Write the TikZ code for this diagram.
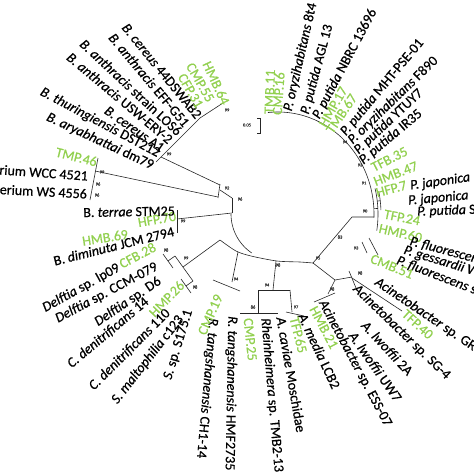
\documentclass[tikz,border=0pt]{standalone}
\usepackage{fontspec}
\setmainfont{Carlito}[FakeBold=0.6]
\definecolor{lg}{RGB}{146,208,80}
\begin{document}
\begin{tikzpicture}[x=1pt,y=-1pt,
  br/.style={line width=0.6pt, black!85},
  lab/.style={inner sep=0pt, font=\fontsize{14}{14}\selectfont},
  lr/.style={lab, anchor=west},
  ll/.style={lab, anchor=east},
  gr/.style={text=lg},
  bs/.style={inner sep=0pt, text=black!80, font=\fontsize{4.5}{4.5}\selectfont}]
\useasboundingbox (0,0) rectangle (474,474);
\clip (0,0) rectangle (474,474);

% ---------- tree branches ----------
% Bacillus / megaterium
\draw[br] (232,198) -- (220,190);
\draw[br] (220,184) -- (218,198);
\draw[br] (220,185) -- (161,157);
\draw[br] (156,162) -- (200,118) -- (223,103);
\draw[br] (218,197) -- (95,171);
\draw[br] (98,158) -- (90,200);
% root
\draw[br] (232,198) -- (232,213);
\draw[br] plot[domain=180:236,samples=30] ({278+47*cos(\x)},{214-47*sin(\x)});
\draw[br] (232,213) -- (177,219);
\draw[br] (177,210) -- (177,233);
\draw[br] plot[smooth] coordinates {(220,240) (236,251) (251,256) (277,261) (300,262) (313,263)};
% Delftia / Comamonas / Stenotrophomonas
\draw[br] (220,240) -- (183,267);
\draw[br] (175,256) -- (193,281);
\draw[br] (175,256) -- (168,261);
\draw[br] (163,254) -- (173,268);
\draw[br] (193,281) -- (186,286);
\draw[br] (181,279) -- (191,293);
% R. tangshanensis
\draw[br] (238,252) -- (232,282);
\draw[br] (213,280) -- (240,291);
% Rheinheimera / Aeromonas
\draw[br] (276,261) -- (273,290);
\draw[br] (258,290) -- (290,290);
\draw[br] (258,290) -- (258,313);
\draw[br] (290,290) -- (292,312);
\draw[br] (240,313) -- (278,313);
\draw[br] (286,312) -- (304,316);
% Acinetobacter
\draw[br] (313,263) -- (335,280);
\draw[br] (335,280) -- (352,277);
\draw[br] (349,271) -- (356,288);
\draw[br] (352,278) -- (402,311);
\draw[br] (335,280) -- (328,294);
\draw[br] (314,302) -- (335,293);
% Pseudomonas
\draw[br] (313,263) -- (352,217) -- (374,217);
\draw[br] plot[domain=-2:96,samples=60] ({278+96*cos(\x)},{214-102*sin(\x)});
\draw[br] ({278+96*cos(3)},{214-102*sin(3)}) -- ({278+100*cos(3)},{214-106*sin(3)});
\draw[br] plot[domain=-9:14,samples=20] ({278+100*cos(\x)},{214-106*sin(\x)});
\draw[br] ({278+100*cos(7)},{214-106*sin(7)}) -- ({278+103*cos(7)},{214-109*sin(7)});
\draw[br] plot[domain=2:12,samples=10] ({278+103*cos(\x)},{214-109*sin(\x)});
\draw[br] (362,242) -- (367,253);
\draw[br] (369,238) -- (378,255);
% scale bar
\draw[br] (257,118) -- (260,118) -- (260,133) -- (257,133);
\node[bs] (sc) at (247,125) {0.05};

% ---------- bootstrap values ----------
\node[bs] (v1) at (227,110) {99};
\node[bs] (v2) at (169,154) {99};
\node[bs] (v3) at (227,188) {92};
\node[bs] (v4) at (240,199) {96};
\node[bs] (v5) at (102,172) {99};
\node[bs] (v6) at (98,184) {96};
\node[bs] (v7) at (97,195) {96};
\node[bs] (v8) at (183,221) {99};
\node[bs] (v9) at (186,258) {99};
\node[bs] (v10) at (166,250) {98};
\node[bs] (v11) at (195,287) {98};
\node[bs] (v12) at (236,279) {94};
\node[bs] (v13) at (278,265) {98};
\node[bs] (v14) at (267,285) {94};
\node[bs] (v15) at (253,307) {86};
\node[bs] (v16) at (296,307) {97};
\node[bs] (v17) at (318,258) {95};
\node[bs] (v18) at (332,289) {98};
\node[bs] (v19) at (360,273) {98};
\node[bs] (v20) at (340,237) {83};
\node[bs] (v21) at (356,248) {93};
\node[bs] (v22) at (365,211) {90};
\node[bs] (v23) at (364,183) {91};
\node[bs] (v24) at (360,165) {93};
\node[bs] (v25) at (345,142) {94};

% ---------- labels, right side ----------
\node[lr,gr,rotate=88] (r1) at (269,114) {TMB.11};
\node[lr,gr,rotate=86] (r2) at (277,115) {CMP.16};
\node[lr,rotate=77] (r3) at (288,111) {\textit{P. oryzihabitans} 8t4};
\node[lr,rotate=75] (r4) at (305,114) {\textit{P. putida} AGL 13};
\node[lr,rotate=62] (r5) at (316,118) {\textit{P. putida} NBRC 13696};
\node[lr,gr,rotate=60] (r6) at (322,126) {HMP.17};
\node[lr,gr,rotate=56] (r7) at (329,132) {TMB.67};
\node[lr,rotate=50] (r8) at (343,134) {\textit{P. putida} MHT-PSE-01};
\node[lr,rotate=44] (r9) at (350,142) {\textit{P. oryzihabitans} F890};
\node[lr,rotate=43] (r10) at (356,152) {\textit{P. putida} YTUY7};
\node[lr,rotate=40] (r11) at (361,162) {\textit{P. putida} IR35};
\node[lr,gr,rotate=27] (r12) at (372,168) {TFB.35};
\node[lr,gr,rotate=21] (r13) at (374,182) {HMB.47};
\node[lr,gr,rotate=15] (r14) at (376,193) {HFP.7};
\node[lr,rotate=8] (r15) at (410,186) {\textit{P. japonica}};
\node[lr,rotate=5] (r16) at (408,201) {\textit{P. japonica}};
\node[lr,rotate=2] (r17) at (417,212) {\textit{P. putida} S};
\node[lr,gr,rotate=-11] (r18) at (384,214) {TFP.24};
\node[lr,gr,rotate=-13] (r19) at (379,228) {HMP.60};
\node[lr,rotate=-15] (r20) at (410,241) {\textit{P. fluorescens}};
\node[lr,rotate=-17] (r21) at (404,250) {\textit{P. gessardii} W};
\node[lr,rotate=-21] (r22) at (397,260) {\textit{P. fluorescens} s};
\node[lr,gr,rotate=-22] (r23) at (371,258) {CMB.51};
\node[lr,rotate=-34] (r24) at (376,281) {\textit{Acinetobacter} sp. GR};
\node[lr,gr,rotate=-42] (r25) at (404,312) {TFP.40};
\node[lr,rotate=-44] (r26) at (355,287) {\textit{Acinetobacter} sp. SG-4};
\node[lr,rotate=-47] (r27) at (364,323) {\textit{A. lwoffii} 2A};
\node[lr,rotate=-55] (r28) at (352,333) {\textit{A. lwoffii} UW7};
\node[lr,rotate=-62] (r29) at (322,301) {\textit{Acinetobacter} sp. ESS-07};
\node[lr,gr,rotate=-62] (r30) at (313,307) {HMB.21};
\node[lr,rotate=-65] (r31) at (302,314) {\textit{A. media} LCB2};
\node[lr,gr,rotate=-76] (r32) at (294,317) {TFP.65};
\node[lr,rotate=-80] (r33) at (281,317) {\textit{A. caviae} Moschidae};
\node[lr,rotate=-85] (r34) at (265,318) {\textit{Rheinheimera} sp. TMB2-13};
\node[lr,gr,rotate=-84] (r35) at (248,318) {CMP.25};
\node[lr,rotate=-91] (r36) at (232,316) {\textit{R. tangshanensis} HMF2735};
\node[lr,rotate=-95] (r37) at (213,318) {\textit{R. tangshanensis} CH1-14};

% ---------- labels, left side ----------
\node[ll,gr,rotate=66] (l1) at (219,295) {CMP.19};
\node[ll,rotate=73] (l2) at (189,310) {\textit{S.} sp. S175.1};
\node[ll,rotate=52] (l3) at (181,317) {\textit{S. maltophilia} c123};
\node[ll,rotate=45] (l4) at (168,311) {\textit{C. denitrificans} 110};
\node[ll,gr,rotate=46] (l5) at (182,283) {HMP.26};
\node[ll,rotate=40] (l6) at (147,300) {\textit{C. denitrificans} 14};
\node[ll,rotate=34] (l7) at (160,280) {\textit{Delftia} sp. D6};
\node[ll,rotate=28] (l8) at (157,266) {\textit{Delftia} sp. CCM-079};
\node[ll,rotate=29] (l9) at (119,267) {\textit{Delftia} sp. lp09};
\node[ll,gr,rotate=28] (l10) at (155,246) {CFB.28};
\node[ll,rotate=14] (l11) at (174,231) {B. \textit{diminuta} JCM 2794};
\node[ll,gr,rotate=9] (l12) at (128,234) {HMB.69};
\node[ll,gr,rotate=10] (l13) at (176,216) {HFP.70};
\node[ll,rotate=1] (l14) at (175,211) {B. \textit{terrae} STM25};
\node[ll,rotate=-3] (l15) at (87,195) {B. megaterium WS 4556};
\node[ll,rotate=-4] (l16) at (88,177) {B. megaterium WCC 4521};
\node[ll,gr,rotate=-14] (l17) at (97,162) {TMP.46};
\node[ll,rotate=-25] (l18) at (153,166) {\textit{B. aryabhattai} dm79};
\node[ll,rotate=-28] (l19) at (159,154) {\textit{B. thuringiensis} DST212};
\node[ll,rotate=-35] (l20) at (163,149) {\textit{B. cereus} A1};
\node[ll,rotate=-40] (l21) at (171,141) {\textit{B. anthracis} USW-ERY-2};
\node[ll,rotate=-43] (l22) at (180,133) {\textit{B. anthracis} strain LOS6};
\node[ll,rotate=-50] (l23) at (187,125) {\textit{B. anthracis} EFF-G51};
\node[ll,rotate=-51] (l24) at (199,117) {\textit{B. cereus} 44DSWAB2};
\node[ll,gr,rotate=-60] (l25) at (200,107) {CFP.31};
\node[ll,gr,rotate=-60] (l26) at (211,101) {CMP.55};
\node[ll,gr,rotate=-65] (l27) at (226,104) {HMB.64};
\end{tikzpicture}
\end{document}
